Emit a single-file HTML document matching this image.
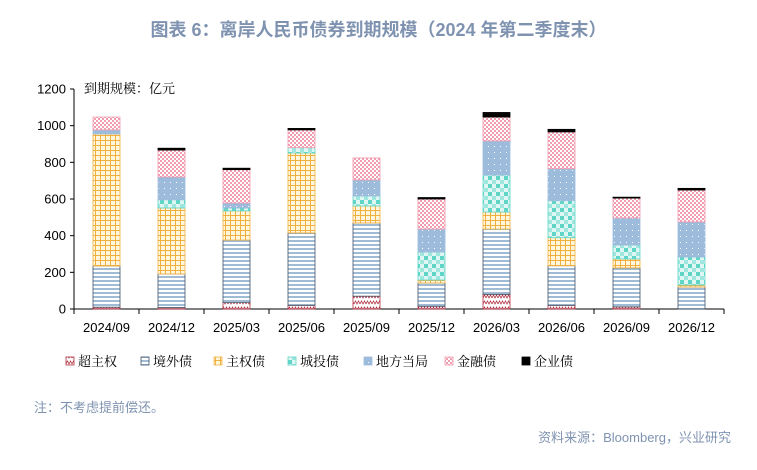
<!DOCTYPE html>
<html><head><meta charset="utf-8"><style>
body{margin:0;background:#fff;width:757px;height:465px;overflow:hidden;font-family:"Liberation Sans","Noto Sans CJK SC",sans-serif}
.serif{font-family:"Liberation Serif","Noto Serif CJK SC",serif}
</style></head><body>
<svg width="757" height="465" xmlns="http://www.w3.org/2000/svg">
<defs>
<pattern id="p0" width="6" height="6" patternUnits="userSpaceOnUse"><rect width="6" height="6" fill="#fff"/><path d="M0 4 L1.5 1 L3 4 L4.5 1 L6 4" stroke="#b03040" fill="none" stroke-width="0.8"/></pattern>
<pattern id="p1" width="4" height="4" patternUnits="userSpaceOnUse"><rect width="4" height="4" fill="#fff"/><rect y="0" width="4" height="2" fill="#9fbcd4"/></pattern>
<pattern id="p2" width="5" height="5" patternUnits="userSpaceOnUse"><rect width="5" height="5" fill="#fff6dc"/><path d="M0 0.5H5M0.5 0V5" stroke="#f0b040" stroke-width="1"/></pattern>
<pattern id="p3" width="8" height="8" patternUnits="userSpaceOnUse"><rect width="8" height="8" fill="#dff6f3"/><rect width="4" height="4" fill="#5fd5c8"/><rect x="4" y="4" width="4" height="4" fill="#9fe6de"/></pattern>
<pattern id="p4" width="6" height="6" patternUnits="userSpaceOnUse"><rect width="6" height="6" fill="#9dbcdc"/><rect x="2" y="2" width="1" height="1" fill="#fff"/></pattern>
<pattern id="p5" width="4" height="4" patternUnits="userSpaceOnUse"><rect width="4" height="4" fill="#fff"/><rect width="2" height="2" fill="#f29cb0"/><rect x="2" y="2" width="2" height="2" fill="#f29cb0"/></pattern>
<pattern id="p6" width="4" height="4" patternUnits="userSpaceOnUse"><rect width="4" height="4" fill="#000"/></pattern>
</defs>
<text x="378.5" y="36" text-anchor="middle" font-size="18" font-weight="bold" fill="#7f93b1">图表 6：离岸人民币债券到期规模（2024 年第二季度末）</text>
<text class="serif" x="84" y="93" font-size="13" fill="#000">到期规模：亿元</text>
<g id="axes"></g>
<g id="bars"></g>
<g id="legend" class="serif"></g>
<text x="34" y="412" font-size="13" fill="#7f93b1">注：不考虑提前偿还。</text>
<text x="731" y="442" text-anchor="end" font-size="13" fill="#7f93b1">资料来源：Bloomberg，兴业研究</text>
</svg>
<script>
const categories=["2024/09","2024/12","2025/03","2025/06","2025/09","2025/12","2026/03","2026/06","2026/09","2026/12"];
const seriesNames=["超主权","境外债","主权债","城投债","地方当局","金融债","企业债"];
const supra=[10,8,35,20,70,15,80,20,12,0];
const offshore=[225,183,341,395,399,127,356,216,212,120];
const sovereign=[720,360,159,436,93,16,93,153,49,11];
const lgfv=[0,45,16,29,55,153,202,202,76,153];
const localGov=[22,124,27,0,87,125,186,175,148,191];
const financial=[70,147,182,97,120,164,130,200,108,174];
const corporate=[0,10,8,8,0,8,25,14,5,9];
const yTicks=[0,200,400,600,800,1000,1200];
const series=[supra,offshore,sovereign,lgfv,localGov,financial,corporate];
const strokes=["#b03040","#44546a","#f0b040","#5fd5c8","#9dbcdc","#f29cb0","#000"];
const NS="http://www.w3.org/2000/svg";
const x0=74,x1=724,y0=309,y1=89,yMax=1200;
const bw=(x1-x0)/categories.length;
function y(v){return y0-(v/yMax)*(y0-y1);}
function xc(i){return x0+bw*(i+0.5);}
function mk(t,a,p){const e=document.createElementNS(NS,t);for(const k in a)e.setAttribute(k,a[k]);p.appendChild(e);return e;}
const ax=document.getElementById('axes');
const yl=mk('line',{x1:x0,y1:y0,x2:x0,y2:y1,stroke:'#000'},ax);


const xl=mk('line',{x1:x0,y1:y0,x2:x1,y2:y0,stroke:'#000'},ax);


yTicks.forEach(v=>{
 mk('line',{x1:x0-4,y1:y(v),x2:x0,y2:y(v),stroke:'#000'},ax);
 const t=mk('text',{x:x0-8,y:y(v)+4.5,'text-anchor':'end','font-size':13},ax);
 t.textContent=v;
 
 
});
for(let i=0;i<=categories.length;i++){mk('line',{x1:x0+bw*i,y1:y0,x2:x0+bw*i,y2:y0+5,stroke:'#000'},ax);}
categories.forEach((c,i)=>{
 const t=mk('text',{x:xc(i),y:y0+23,'text-anchor':'middle','font-size':13},ax);
 t.textContent=c;
 
 
});
const bg=document.getElementById('bars');
categories.forEach((c,i)=>{
 let cum=0;
 series.forEach((s,k)=>{
  const v=s[i]; if(v<=0)return;
  const r=mk('rect',{x:xc(i)-13.5,y:y(cum+v),width:27,height:y(cum)-y(cum+v),fill:'url(#p'+k+')',stroke:strokes[k],'stroke-width':0.8},bg);
  
  
  cum+=v;
 });
});
const lg=document.getElementById('legend');
const lx=[66,141,214,288,364,445,522];
seriesNames.forEach((n,k)=>{
 const g=mk('g',{},lg);
 
 
 mk('rect',{x:lx[k],y:357,width:8,height:8,fill:'url(#p'+k+')',stroke:strokes[k],'stroke-width':0.8},g);
 const t=mk('text',{x:lx[k]+12,y:366,'font-size':13},g);
 t.textContent=n;
});
</script>
</body></html>
